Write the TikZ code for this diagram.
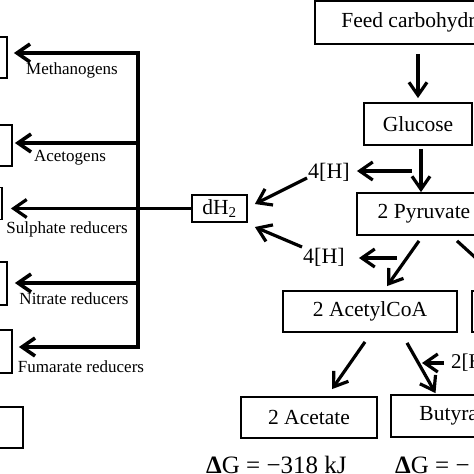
\documentclass[tikz,border=0pt]{standalone}
\usepackage{fontspec}
\setmainfont{Liberation Serif}
\usetikzlibrary{arrows.meta,calc}
\begin{document}
\begin{tikzpicture}[x=1pt,y=-1pt,
  box/.style={draw, line width=1.8pt, inner sep=0pt, minimum height=41pt, font=\fontsize{21.5}{24}\selectfont},
  lbl/.style={inner sep=0pt, font=\fontsize{17}{19}\selectfont},
  hlbl/.style={inner sep=2pt, font=\fontsize{22}{24}\selectfont},
  dglbl/.style={inner sep=0pt, anchor=west, font=\fontsize{25}{27}\selectfont},
  bus/.style={line width=3.8pt, line cap=rect},
  larr/.style={line width=3.8pt, -{Straight Barb[length=13pt,width=18pt,line width=3.6pt]}},
  sarr/.style={line width=3.2pt, -{Straight Barb[length=13pt,width=18pt,line width=3.2pt]}},
  arr/.style={line width=3.2pt, -{Straight Barb[length=13pt,width=18pt,line width=3.2pt]}}]
\useasboundingbox (0,0) rectangle (474,474);
\clip (0,0) rectangle (474,474);

% left boxes (cut by the left edge)
\node[box, minimum width=67pt] (metbox) at (-26.5,57.5) {};
\node[box, minimum width=72pt] (acebox) at (-24,145.5) {};
\node[box, minimum width=62pt, minimum height=32pt] (sulbox) at (-29,203.5) {};
\node[box, minimum width=67pt, minimum height=43pt] (nitbox) at (-26.5,283.5) {};
\node[box, minimum width=72pt, minimum height=43pt] (fumbox) at (-24,351.5) {};
\node[box, minimum width=83pt] (botbox) at (-18.5,427.5) {};

% labels
\node[lbl] (lmet) at (72,70) {Methanogens};
\node[lbl] (lace) at (70,158) {Acetogens};
\node[lbl] (lsul) at (67,229) {Sulphate reducers};
\node[lbl] (lnit) at (74,299) {Nitrate reducers};
\node[lbl] (lfum) at (81,367) {Fumarate reducers};

% dH2
\node[box, minimum width=55pt, minimum height=27pt] (dh) at (219.5,208.5) {dH\textsubscript{2}};

% right boxes
\node[box, minimum width=212pt, minimum height=43pt] (feed) at (421,22.5) {Feed carbohydrate};
\node[box, minimum width=108pt, minimum height=42pt] (glu) at (418,124) {Glucose};
\node[box, minimum width=134pt, minimum height=42pt] (pyr) at (424,214) {2 Pyruvate};
\node[box, minimum width=174pt] (acoa) at (370,311.5) {2 AcetylCoA};
\node[box, minimum width=100pt] (rbox) at (522,311.5) {};
\node[box, minimum width=136pt] (acet) at (309,417.5) {2 Acetate};
\node[box, minimum width=131pt, minimum height=42pt] (but) at (456.5,416) {Butyrate};

% hydrogen labels
\node[hlbl] (h1) at (329,172) {4[H]};
\node[hlbl] (h2) at (324,257) {4[H]};
\node[hlbl, anchor=west, font=\fontsize{21}{23}\selectfont] (h3) at (449,363) {2[H]};

% Delta G
\node[dglbl] (dg1) at (206,465) {\textbf{Δ}G = −318 kJ};
\node[dglbl] (dg2) at (395,465) {\textbf{Δ}G = −};

% bus to the hydrogen consumers
\coordinate (b1) at (138,53);
\coordinate (b2) at (138,143);
\coordinate (b4) at (138,283);
\coordinate (b5) at (138,347);
\draw[bus] (b1) -- (b5);
\draw[larr, shorten >=6pt] (b1) -- (b1 -| metbox.east);
\draw[larr, shorten >=2pt] (b2) -- (b2 -| acebox.east);
\draw[larr, shorten >=7pt] (b4) -- (b4 -| nitbox.east);
\draw[larr, shorten >=6pt] (b5) -- (b5 -| fumbox.east);
\draw[sarr, shorten >=8pt] (dh.west) -- (dh.west -| sulbox.east);

% main chain
\draw[arr, shorten <=9pt, shorten >=4pt] (glu.north |- feed.south) -- (glu.north);
\draw[arr, shorten <=3pt] ([xshift=3pt]glu.south) -- ([xshift=3pt]glu.south |- pyr.north);

% 4[H] upper
\coordinate (h1s) at (412,171);
\draw[arr, shorten >=5pt] (h1s) -- (h1s -| h1.east);
\draw[arr] ($(h1.west)+(1,6)$) -- ($(dh.east)+(7,-4.5)$);

% 4[H] lower
\coordinate (h2s) at (397,258);
\draw[arr, shorten >=12pt] (h2s) -- (h2s -| h2.east);
\draw[arr] ($(h2.west)+(1,-10)$) -- ($(dh.east)+(7,18.5)$);

% pyruvate branches
\draw[arr] ($(pyr.south)+(-5,5)$) -- ($(acoa.north)+(17,-4)$);
\draw[arr] ($(pyr.south)+(33,5)$) -- (500,280);

% acetylCoA branches
\draw[arr] ($(acoa.south)+(-5,9)$) -- ($(acet.north)+(23,-7)$);
\draw[arr] ($(acoa.south)+(37,10)$) -- ($(but.north)+(-21,-1)$);

% 2[H]
\draw[arr] ($(h3.west)+(-5,0)$) -- ($(h3.west)+(-27,0)$);
\end{tikzpicture}
\end{document}
